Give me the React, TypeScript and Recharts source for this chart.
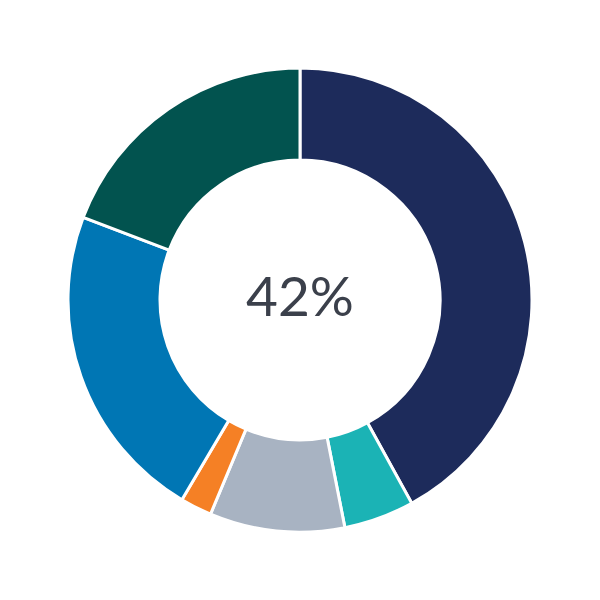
import React from "react";
import { PieChart, Pie, Cell, Label } from "recharts";

const segmentNames = ["Navy", "Teal", "Gray", "Orange", "Blue", "Green"];
const segmentValues = [42, 4.9, 9.4, 2.2, 22.3, 19.2];
const segmentColors = ["#1d2b5b", "#1bb3b5", "#a8b3c2", "#f58025", "#0076b4", "#02534f"];
const centerText = "42%";

const chartData = segmentNames.map((name, i) => ({ name, value: segmentValues[i] }));

const App: React.FC = () => {
  return (
    <div style={{ width: 584, height: 584 }}>
      <PieChart width={584} height={584} margin={{ top: 0, right: 0, bottom: 0, left: 0 }}>
        <Pie
          data={chartData}
          dataKey="value"
          cx={292}
          cy={292}
          innerRadius={140}
          outerRadius={232}
          startAngle={90}
          endAngle={-270}
          stroke="#ffffff"
          strokeWidth={3}
          isAnimationActive={false}
        >
          {chartData.map((d, i) => (
            <Cell key={d.name} fill={segmentColors[i]} />
          ))}
          <Label
            value={centerText}
            position="center"
            dy={-4}
            fill="#3b404b"
            style={{ fontFamily: "Lato, sans-serif", fontWeight: 400, fontSize: 55 }}
          />
        </Pie>
      </PieChart>
    </div>
  );
};

export default App;
